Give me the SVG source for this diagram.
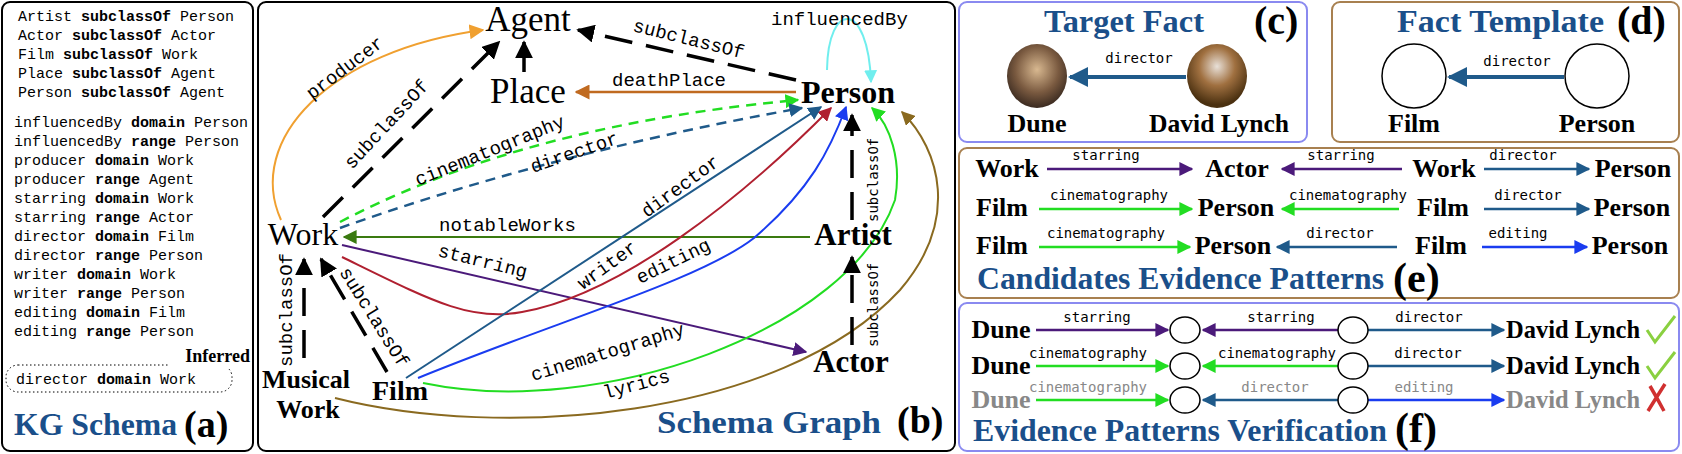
<svg xmlns="http://www.w3.org/2000/svg" width="1682" height="454" viewBox="0 0 1682 454">
<style>
.mono{font-family:"Liberation Mono","DejaVu Sans Mono",monospace;font-size:15px}
.b{font-weight:bold}
.lbl{font-family:"Liberation Mono","DejaVu Sans Mono",monospace;font-size:19px}
.sl{font-family:"DejaVu Sans Mono","Liberation Mono",monospace;font-size:14px}
.ser{font-family:"Liberation Serif","DejaVu Serif",serif}
.nb{font-family:"Liberation Serif",serif;font-weight:bold;font-size:26px}
.title{font-family:"Liberation Serif",serif;font-weight:bold;fill:#1a4f8a;font-size:32px}
.tag{font-family:"Liberation Serif",serif;font-weight:bold;fill:#000}
.panel{fill:#fff;stroke-width:2}
.gray{fill:#888}
</style>
<defs>
<marker id="mk" viewBox="0 0 10 10" refX="9" refY="5" markerWidth="18" markerHeight="18" markerUnits="userSpaceOnUse" orient="auto"><path d="M0,0L10,5L0,10z" fill="#000"/></marker>
<marker id="mor" viewBox="0 0 10 10" refX="9" refY="5" markerWidth="15" markerHeight="15" markerUnits="userSpaceOnUse" orient="auto"><path d="M0,0L10,5L0,10z" fill="#f0a030"/></marker>
<marker id="mbr" viewBox="0 0 10 10" refX="9" refY="5" markerWidth="15" markerHeight="15" markerUnits="userSpaceOnUse" orient="auto"><path d="M0,0L10,5L0,10z" fill="#c06a20"/></marker>
<marker id="mcy" viewBox="0 0 10 10" refX="9" refY="5" markerWidth="13" markerHeight="13" markerUnits="userSpaceOnUse" orient="auto"><path d="M0,0L10,5L0,10z" fill="#70eeee"/></marker>
<marker id="mgr" viewBox="0 0 10 10" refX="9" refY="5" markerWidth="14" markerHeight="14" markerUnits="userSpaceOnUse" orient="auto"><path d="M0,0L10,5L0,10z" fill="#22dd22"/></marker>
<marker id="mdb" viewBox="0 0 10 10" refX="9" refY="5" markerWidth="14" markerHeight="14" markerUnits="userSpaceOnUse" orient="auto"><path d="M0,0L10,5L0,10z" fill="#1f5a8a"/></marker>
<marker id="mdb2" viewBox="0 0 10 10" refX="9" refY="5" markerWidth="20" markerHeight="20" markerUnits="userSpaceOnUse" orient="auto"><path d="M0,0L10,5L0,10z" fill="#1f5a8a"/></marker>
<marker id="mrd" viewBox="0 0 10 10" refX="9" refY="5" markerWidth="14" markerHeight="14" markerUnits="userSpaceOnUse" orient="auto"><path d="M0,0L10,5L0,10z" fill="#b02030"/></marker>
<marker id="mbl" viewBox="0 0 10 10" refX="9" refY="5" markerWidth="14" markerHeight="14" markerUnits="userSpaceOnUse" orient="auto"><path d="M0,0L10,5L0,10z" fill="#1a3cf0"/></marker>
<marker id="mnw" viewBox="0 0 10 10" refX="9" refY="5" markerWidth="14" markerHeight="14" markerUnits="userSpaceOnUse" orient="auto"><path d="M0,0L10,5L0,10z" fill="#3a7a10"/></marker>
<marker id="mpu" viewBox="0 0 10 10" refX="9" refY="5" markerWidth="14" markerHeight="14" markerUnits="userSpaceOnUse" orient="auto"><path d="M0,0L10,5L0,10z" fill="#4b1a7a"/></marker>
<marker id="mly" viewBox="0 0 10 10" refX="9" refY="5" markerWidth="14" markerHeight="14" markerUnits="userSpaceOnUse" orient="auto"><path d="M0,0L10,5L0,10z" fill="#8a6a20"/></marker>
<radialGradient id="dune" cx="0.5" cy="0.4" r="0.6"><stop offset="0" stop-color="#d8b890"/><stop offset="0.6" stop-color="#7a5a40"/><stop offset="1" stop-color="#3a2a20"/></radialGradient>
<radialGradient id="lynch" cx="0.5" cy="0.35" r="0.6"><stop offset="0" stop-color="#e8e0d8"/><stop offset="0.5" stop-color="#a07040"/><stop offset="1" stop-color="#4a3010"/></radialGradient>
</defs>
<rect width="1682" height="454" fill="#fff"/>

<!-- Panel (a) -->
<g id="panel-a">
<rect class="panel" x="2" y="2" width="251" height="449" rx="8" stroke="#000"/>
<g class="mono">
<text x="18" y="21">Artist <tspan class="b">subclassOf</tspan> Person</text>
<text x="18" y="40">Actor <tspan class="b">subclassOf</tspan> Actor</text>
<text x="18" y="59">Film <tspan class="b">subclassOf</tspan> Work</text>
<text x="18" y="78">Place <tspan class="b">subclassOf</tspan> Agent</text>
<text x="18" y="97">Person <tspan class="b">subclassOf</tspan> Agent</text>
<text x="14" y="127">influencedBy <tspan class="b">domain</tspan> Person</text>
<text x="14" y="146">influencedBy <tspan class="b">range</tspan> Person</text>
<text x="14" y="165">producer <tspan class="b">domain</tspan> Work</text>
<text x="14" y="184">producer <tspan class="b">range</tspan> Agent</text>
<text x="14" y="203">starring <tspan class="b">domain</tspan> Work</text>
<text x="14" y="222">starring <tspan class="b">range</tspan> Actor</text>
<text x="14" y="241">director <tspan class="b">domain</tspan> Film</text>
<text x="14" y="260">director <tspan class="b">range</tspan> Person</text>
<text x="14" y="279">writer <tspan class="b">domain</tspan> Work</text>
<text x="14" y="298">writer <tspan class="b">range</tspan> Person</text>
<text x="14" y="317">editing <tspan class="b">domain</tspan> Film</text>
<text x="14" y="336">editing <tspan class="b">range</tspan> Person</text>
<text x="16" y="384">director <tspan class="b">domain</tspan> Work</text>
</g>
<rect x="6" y="365" width="226" height="27" rx="12" fill="none" stroke="#000" stroke-width="1" stroke-dasharray="1.5,2.5"/>
<rect x="170" y="348" width="80" height="20" fill="#fff"/>
<text x="250" y="362" text-anchor="end" class="ser b" font-size="18">Inferred</text>
<text x="14" y="435" class="title" textLength="163" lengthAdjust="spacingAndGlyphs">KG Schema</text>
<text x="184" y="437" class="tag" font-size="38">(a)</text>
</g>

<!-- Panel (b) -->
<g id="panel-b">
<rect class="panel" x="258" y="2" width="697" height="449" rx="8" stroke="#000"/>
<text x="657" y="433" class="title" textLength="224" lengthAdjust="spacingAndGlyphs">Schema Graph</text>
<text x="897" y="433" class="tag" font-size="38">(b)</text>
</g>

<g id="connectors-b" stroke-width="2" fill="none">
<path d="M281,220 C245,140 330,50 483,30" stroke="#f0a030" marker-end="url(#mor)"/>
<path d="M323,217 L499,42" stroke="#000" stroke-width="3.5" stroke-dasharray="28,14" marker-end="url(#mk)"/>
<path d="M524,72 L524,42" stroke="#000" stroke-width="3.5" marker-end="url(#mk)"/>
<path d="M796,80 L578,30" stroke="#000" stroke-width="3.5" stroke-dasharray="28,14" marker-end="url(#mk)"/>
<path d="M827,70 C828,0 868,0 871,82" stroke="#70eeee" marker-end="url(#mcy)"/>
<path d="M796,92 L576,92" stroke="#c06a20" stroke-width="2.5" marker-end="url(#mbr)"/>
<path d="M340,222 C440,170 580,120 798,100" stroke="#22dd22" stroke-width="2.5" stroke-dasharray="10,7" marker-end="url(#mgr)"/>
<path d="M340,228 C460,185 620,140 802,108" stroke="#1f5a8a" stroke-width="2.5" stroke-dasharray="10,7" marker-end="url(#mdb)"/>
<path d="M810,237 L344,237" stroke="#3a7a10" marker-end="url(#mnw)"/>
<path d="M342,245 L806,352" stroke="#4b1a7a" marker-end="url(#mpu)"/>
<path d="M342,257 C430,300 470,322 522,312 C620,295 740,200 831,108" stroke="#b02030" marker-end="url(#mrd)"/>
<path d="M406,378 L821,107" stroke="#1f5a8a" marker-end="url(#mdb)"/>
<path d="M418,378 C560,320 700,280 754,238 C810,190 830,150 846,107" stroke="#1a3cf0" marker-end="url(#mbl)"/>
<path d="M423,383 C600,420 850,330 895,200 C902,160 890,125 872,108" stroke="#22dd22" marker-end="url(#mgr)"/>
<path d="M335,398 C500,440 780,420 900,290 C960,220 940,150 902,112" stroke="#8a6a20" marker-end="url(#mly)"/>
<path d="M387,372 L321,259" stroke="#000" stroke-width="3.5" stroke-dasharray="28,14" marker-end="url(#mk)"/>
<path d="M304,358 L304,259" stroke="#000" stroke-width="3.5" stroke-dasharray="28,14" marker-end="url(#mk)"/>
<path d="M852,220 L852,115" stroke="#000" stroke-width="3.5" stroke-dasharray="28,14" marker-end="url(#mk)"/>
<path d="M852,345 L852,257" stroke="#000" stroke-width="3.5" stroke-dasharray="28,14" marker-end="url(#mk)"/>
</g>

<g id="labels-b" class="lbl">
<text transform="translate(312,100) rotate(-37)">producer</text>
<text transform="translate(352,170) rotate(-47)">subclassOf</text>
<text transform="translate(632,31) rotate(14)">subclassOf</text>
<text x="771" y="25">influencedBy</text>
<text x="669" y="86" text-anchor="middle">deathPlace</text>
<text transform="translate(418,186) rotate(-22)">cinematography</text>
<text transform="translate(533,173) rotate(-19)">director</text>
<text x="439" y="231">notableWorks</text>
<text transform="translate(437,256) rotate(14)">starring</text>
<text transform="translate(647,218) rotate(-36)">director</text>
<text transform="translate(583,290) rotate(-36)">writer</text>
<text transform="translate(640,284) rotate(-26)">editing</text>
<text transform="translate(533,381) rotate(-17)">cinematography</text>
<text transform="translate(605,399) rotate(-15)">lyrics</text>
<text transform="translate(339,272) rotate(58)">subclassOf</text>
<text transform="translate(292,367) rotate(-90)">subclassOf</text>
<text transform="translate(878,222) rotate(-90)" class="sl" font-size="15">subclassOf</text>
<text transform="translate(878,347) rotate(-90)" class="sl" font-size="15">subclassOf</text>
</g>

<g id="node-agent"><text x="528" y="31" text-anchor="middle" class="ser" font-size="35">Agent</text></g>
<g id="node-place"><text x="528" y="103" text-anchor="middle" class="ser" font-size="35">Place</text></g>
<g id="node-person"><text x="848" y="103" text-anchor="middle" class="ser b" font-size="32">Person</text></g>
<g id="node-work"><text x="303" y="245" text-anchor="middle" class="ser" font-size="32">Work</text></g>
<g id="node-artist"><text x="853" y="245" text-anchor="middle" class="ser b" font-size="31">Artist</text></g>
<g id="node-actor"><text x="851" y="372" text-anchor="middle" class="ser b" font-size="31">Actor</text></g>
<g id="node-musicalwork"><text text-anchor="middle" class="ser b" font-size="26"><tspan x="306" y="388">Musical</tspan><tspan x="308" y="418">Work</tspan></text></g>
<g id="node-film"><text x="400" y="400" text-anchor="middle" class="ser b" font-size="28">Film</text></g>

<!-- Panel (c) -->
<g id="panel-c">
<rect class="panel" x="959" y="2" width="348" height="140" rx="8" stroke="#8a8af0"/>
<text x="1044" y="32" class="title" textLength="160" lengthAdjust="spacingAndGlyphs">Target Fact</text>
<text x="1254" y="34" class="tag" font-size="40">(c)</text>
<ellipse cx="1037" cy="76" rx="30" ry="32" fill="url(#dune)"/>
<ellipse cx="1217" cy="76" rx="30" ry="32" fill="url(#lynch)"/>
<path d="M1186,77 L1070,77" stroke="#1f5a8a" stroke-width="4" fill="none" marker-end="url(#mdb2)"/>
<text x="1139" y="63" text-anchor="middle" class="sl" font-size="17">director</text>
<text x="1037" y="132" text-anchor="middle" class="nb">Dune</text>
<text x="1219" y="132" text-anchor="middle" class="nb" textLength="140" lengthAdjust="spacingAndGlyphs">David Lynch</text>
</g>

<!-- Panel (d) -->
<g id="panel-d">
<rect class="panel" x="1332" y="2" width="347" height="140" rx="8" stroke="#a88050"/>
<text x="1397" y="32" class="title" textLength="207" lengthAdjust="spacingAndGlyphs">Fact Template</text>
<text x="1617" y="34" class="tag" font-size="40">(d)</text>
<ellipse cx="1414" cy="76" rx="32" ry="32" fill="#fff" stroke="#000" stroke-width="1.5"/>
<ellipse cx="1597" cy="76" rx="32" ry="32" fill="#fff" stroke="#000" stroke-width="1.5"/>
<path d="M1564,77 L1449,77" stroke="#1f5a8a" stroke-width="4" fill="none" marker-end="url(#mdb2)"/>
<text x="1517" y="66" text-anchor="middle" class="sl" font-size="17">director</text>
<text x="1414" y="132" text-anchor="middle" class="nb">Film</text>
<text x="1597" y="132" text-anchor="middle" class="nb">Person</text>
</g>

<!-- Panel (e) -->
<g id="panel-e">
<rect class="panel" x="959" y="148" width="720" height="150" rx="8" stroke="#a88050"/>
<g class="nb" text-anchor="middle">
<text x="1007" y="177">Work</text><text x="1237" y="177">Actor</text><text x="1444" y="177">Work</text><text x="1633" y="177">Person</text>
<text x="1002" y="216">Film</text><text x="1236" y="216">Person</text><text x="1443" y="216">Film</text><text x="1632" y="216">Person</text>
<text x="1002" y="254">Film</text><text x="1233" y="254">Person</text><text x="1441" y="254">Film</text><text x="1630" y="254">Person</text>
</g>
<g stroke-width="2.5" fill="none">
<path d="M1047,169 L1192,169" stroke="#4b1a7a" marker-end="url(#mpu)"/>
<path d="M1402,169 L1282,169" stroke="#4b1a7a" marker-end="url(#mpu)"/>
<path d="M1484,169 L1589,169" stroke="#1f5a8a" marker-end="url(#mdb)"/>
<path d="M1039,209 L1192,209" stroke="#22dd22" marker-end="url(#mgr)"/>
<path d="M1399,209 L1282,209" stroke="#22dd22" marker-end="url(#mgr)"/>
<path d="M1484,209 L1589,209" stroke="#1f5a8a" marker-end="url(#mdb)"/>
<path d="M1039,247 L1190,247" stroke="#22dd22" marker-end="url(#mgr)"/>
<path d="M1397,247 L1277,247" stroke="#1f5a8a" marker-end="url(#mdb)"/>
<path d="M1482,247 L1587,247" stroke="#1a3cf0" marker-end="url(#mbl)"/>
</g>
<g class="sl" text-anchor="middle">
<text x="1106" y="160">starring</text><text x="1341" y="160">starring</text><text x="1523" y="160">director</text>
<text x="1109" y="200">cinematography</text><text x="1348" y="200">cinematography</text><text x="1528" y="200">director</text>
<text x="1106" y="238">cinematography</text><text x="1340" y="238">director</text><text x="1518" y="238">editing</text>
</g>
<text x="977" y="289" class="title" textLength="407" lengthAdjust="spacingAndGlyphs">Candidates Evidence Patterns</text>
<text x="1393" y="292" class="tag" font-size="42">(e)</text>
</g>

<!-- Panel (f) -->
<g id="panel-f">
<rect class="panel" x="959" y="303" width="720" height="148" rx="8" stroke="#8a8af0"/>
<g stroke-width="2.5" fill="none">
<path d="M1036,330 L1168,330" stroke="#4b1a7a" marker-end="url(#mpu)"/>
<path d="M1339,330 L1203,330" stroke="#4b1a7a" marker-end="url(#mpu)"/>
<path d="M1367,330 L1504,330" stroke="#1f5a8a" marker-end="url(#mdb)"/>
<path d="M1036,366 L1168,366" stroke="#22dd22" marker-end="url(#mgr)"/>
<path d="M1339,366 L1203,366" stroke="#22dd22" marker-end="url(#mgr)"/>
<path d="M1367,366 L1504,366" stroke="#1f5a8a" marker-end="url(#mdb)"/>
<path d="M1036,400 L1168,400" stroke="#22dd22" marker-end="url(#mgr)"/>
<path d="M1339,400 L1203,400" stroke="#1f5a8a" marker-end="url(#mdb)"/>
<path d="M1367,400 L1504,400" stroke="#1a3cf0" marker-end="url(#mbl)"/>
</g>
<g fill="#fff" stroke="#000" stroke-width="1.5">
<ellipse cx="1185" cy="330" rx="15" ry="13"/><ellipse cx="1353" cy="330" rx="15" ry="13"/>
<ellipse cx="1185" cy="366" rx="15" ry="13"/><ellipse cx="1353" cy="366" rx="15" ry="13"/>
<ellipse cx="1185" cy="400" rx="15" ry="13"/><ellipse cx="1353" cy="400" rx="15" ry="13"/>
</g>
<g class="nb">
<text x="1001" y="338" text-anchor="middle">Dune</text><text x="1506" y="338" textLength="134" lengthAdjust="spacingAndGlyphs">David Lynch</text>
<text x="1001" y="374" text-anchor="middle">Dune</text><text x="1506" y="374" textLength="134" lengthAdjust="spacingAndGlyphs">David Lynch</text>
<text x="1001" y="408" text-anchor="middle" class="gray">Dune</text><text x="1506" y="408" class="gray" textLength="134" lengthAdjust="spacingAndGlyphs">David Lynch</text>
</g>
<g class="sl" text-anchor="middle">
<text x="1097" y="322">starring</text><text x="1281" y="322">starring</text><text x="1429" y="322">director</text>
<text x="1088" y="358">cinematography</text><text x="1277" y="358">cinematography</text><text x="1428" y="358">director</text>
<g class="gray"><text x="1088" y="392">cinematography</text><text x="1275" y="392">director</text><text x="1424" y="392">editing</text></g>
</g>
<path d="M1647,330 L1655,342 L1675,316" stroke="#8ad040" stroke-width="3" fill="none"/>
<path d="M1647,366 L1655,378 L1675,352" stroke="#8ad040" stroke-width="3" fill="none"/>
<path d="M1650,386 Q1657,398 1664,411 M1665,384 Q1656,398 1648,411" stroke="#d03030" stroke-width="3.5" fill="none"/>
<text x="973" y="441" class="title" textLength="414" lengthAdjust="spacingAndGlyphs">Evidence Patterns Verification</text>
<text x="1395" y="442" class="tag" font-size="42">(f)</text>
</g>
</svg>
